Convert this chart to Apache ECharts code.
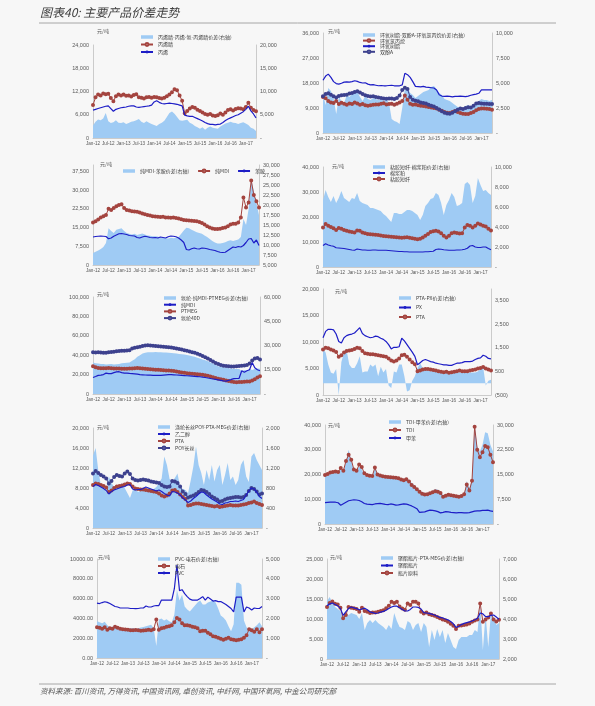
<!DOCTYPE html>
<html>
<head>
<meta charset="utf-8">
<script src="https://cdn.jsdelivr.net/npm/echarts@6.0.0/dist/echarts.min.js"></script>
<style>
html, body { margin: 0; padding: 0; background: #f7f7f7; }
#chart { width: 595px; height: 706px; }
</style>
</head>
<body>
<div id="chart"></div>
<script>
// months Jan-12 .. May-17
const monthNames = ['Jan', 'Feb', 'Mar', 'Apr', 'May', 'Jun', 'Jul', 'Aug', 'Sep', 'Oct', 'Nov', 'Dec'];
const yearNames = ['12', '13', '14', '15', '16', '17'];
const categories = [];
yearNames.forEach(y => monthNames.forEach(m => categories.push(m + '-' + y)));
categories.length = 65;

// panel 1
const p1Spread = [2700, 3500, 4000, 3800, 4200, 5400, 3600, 3200, 3400, 3800, 3300, 3200,
  3400, 3000, 3200, 3500, 3600, 3800, 4100, 3500, 3200, 3600, 3300, 3000,
  2800, 2600, 3000, 3300, 3700, 4500, 5400, 5700, 5200, 4500, 3800, 3700,
  3800, 3900, 3300, 3000, 2600, 2300, 2000, 2300, 1800, 2200, 2500, 2200,
  2100, 2000, 2500, 2800, 3100, 3300, 3500, 3300, 3200, 3000, 3200, 3400,
  3100, 2800, 2200, 2000, 1500];
const p1Red = [8500, 10500, 11200, 11000, 11500, 11300, 11400, 10300, 9500, 10800, 11200, 11000,
  11200, 10900, 11000, 10700, 11100, 11300, 10500, 10400, 10200, 10500, 10600, 10400,
  10600, 10500, 10300, 10200, 10400, 10800, 11200, 11800, 12600, 12300, 11000, 9600,
  6400, 7000, 7600, 8000, 7800, 7300, 7000, 6600, 6200, 6000, 6200, 5800,
  5700, 5900, 6300, 6000, 6600, 7200, 7400, 7100, 7500, 7700, 7600, 7400,
  8000, 9100, 7800, 7200, 6900];
const p1Blue = [7200, 7400, 7600, 7800, 8000, 8200, 8300, 7600, 6900, 7400, 7600, 7800,
  7900, 8000, 8200, 8300, 8300, 8000, 7900, 8000, 8100, 8200, 8300, 8500,
  9300, 9600, 9200, 8900, 8800, 8900, 9000, 8900, 8800, 8700, 8500, 8300,
  5900, 5700, 5600, 5600, 5300, 5000, 4700, 4400, 4000, 3700, 3500, 3500,
  3400, 3500, 3600, 4000, 4500, 4900, 5200, 5500, 5800, 6000, 6400, 6800,
  7400, 8200, 7000, 6200, 5200];

// panel 2: epoxy
const p2Spread = [3900, 2800, 4500, 4200, 3500, 1900, 3600, 3200, 3000, 3800, 3600, 3900,
  4300, 4100, 3600, 3200, 3700, 3400, 3300, 3500, 3400, 3300, 3400, 3200,
  3400, 3000, 1400, 1200, 1100, 900, 2500, 4400, 4600, 4000, 3800, 3500,
  3700, 3900, 4100, 4200, 4300, 4600, 4700, 4400, 4000, 3800, 3400, 3300,
  3200, 3000, 2800, 2600, 2600, 2500, 2700, 2800, 2600, 2800, 3000, 3200,
  3400, 3300, 3300, 3200, 3300];
const p2Ech = [13000, 12500, 11500, 11000, 10800, 11500, 10400, 10900, 10500, 10200, 10600, 10400,
  11000, 10600, 10200, 10400, 10000, 9800, 10000, 10200, 10300, 10300, 10500, 10700,
  10300, 10400, 10500, 10200, 10500, 11000, 11500, 13500, 12000, 10500, 10200, 10300,
  10000, 9800, 9700, 9500, 9400, 9200, 9000, 8800, 8400, 8000, 7600, 7300,
  7200, 7600, 7900, 7600, 7200, 6900, 6800, 6800, 7200, 7600, 8200, 8600,
  8800, 8800, 8700, 8600, 8400];
const p2Epoxy = [19000, 20500, 21200, 20000, 18500, 17800, 17600, 17900, 18300, 18400, 18300, 18500,
  18800, 18600, 18200, 18000, 18100, 17600, 17300, 17400, 17200, 17000, 17100, 17000,
  17000, 17100, 17200, 17000, 17000, 17000, 17300, 21500, 21000, 20000, 18500, 16800,
  16700, 16600, 16800, 16500, 16400, 16300, 16200, 15500, 13800, 13300, 13200, 13300,
  13200, 13000, 13200, 13200, 13300, 13200, 13100, 13300, 13600, 13800, 14000, 14300,
  15500, 15500, 15500, 15500, 15500];
const p2Bpa = [13200, 14000, 14300, 13800, 13200, 12800, 13300, 13600, 13700, 13800, 14200, 14400,
  14800, 15000, 14600, 14000, 13600, 13300, 13100, 13200, 13000, 12800, 12600, 12400,
  12300, 12400, 12400, 12200, 12600, 13500, 15500, 16300, 15800, 13000, 12000, 11600,
  11400, 11000, 10800, 10600, 10200, 9800, 9500, 9000, 8500, 7800, 7300, 7000,
  6900, 7300, 7800, 8400, 8800, 8600, 9000, 9300, 9200, 9800, 10600, 10800,
  10600, 10500, 10500, 10400, 10400];

// panel 3: MDI / aniline
const p3Spread = [8000, 8300, 8600, 9000, 9500, 10500, 14200, 13500, 13000, 13800, 14000, 14200,
  13500, 13000, 12800, 12600, 12800, 12500, 12700, 12900, 12600, 12400, 12300, 12200,
  12200, 12100, 11800, 11900, 11700, 11600, 11800, 11700, 11800, 12000, 12800, 13600,
  14300, 14200, 13800, 13500, 13200, 13000, 12800, 12400, 12000, 11500, 11000, 10600,
  10400, 10400, 10500, 10700, 11000, 11200, 11000, 11200, 11400, 12000, 16500, 15000,
  19000, 26500, 23500, 20500, 17500];
const p3Mdi = [17000, 17500, 18200, 19000, 19500, 20000, 22500, 22000, 22800, 23500, 24000, 24300,
  22800, 22000, 21800, 21500, 21400, 21300, 21000, 20600, 20300, 20000, 19800, 19500,
  19400, 19300, 19200, 19300, 19000, 19000, 18900, 19000, 18800, 18600, 18300, 18000,
  17900, 17800, 17700, 17600, 17500, 17200, 16800, 16200, 15500, 15000, 14600, 14400,
  14400, 14500, 14800, 15000, 15500, 16200, 16500, 16500, 17000, 19000, 27000, 23000,
  25000, 33800, 28000, 25500, 23000];
const p3Aniline = [11200, 11400, 11500, 11600, 11500, 11400, 10500, 10800, 11500, 12000, 12500, 12600,
  12400, 12200, 11800, 11700, 11600, 11000, 10800, 11200, 11500, 11300, 11000, 10900,
  11000, 10800, 11200, 11000, 10800, 11300, 11600, 11500, 11300, 10800, 10000, 9000,
  6200, 6000, 6500, 6800, 6500, 6400, 6800, 6700, 6500, 6200, 6000, 5800,
  5400, 5100, 5000, 5100, 5800, 6500, 7200, 7000, 7400, 7200, 7800, 9000,
  10400, 10600, 8800, 10000, 7800];

// panel 4: viscose
const p4Spread = [6700, 7700, 7000, 6500, 7100, 6400, 6900, 7600, 6900, 6700, 6500, 6900,
  6800, 7400, 6600, 6400, 6300, 6200, 5900, 5900, 5800, 5700, 5600, 5300,
  5100, 4800, 4500, 5400, 5400, 5300, 5300, 5500, 5700, 5700, 5600, 5400,
  5200, 4700, 5200, 6100, 6400, 6800, 6900, 7400, 7200, 6400, 5200, 6200,
  6700, 7400, 7000, 6100, 6200, 6400, 8300, 8500, 8200, 6400, 7100, 8900,
  8200, 7600, 7700, 7400, 7200];
const p4Pulp = [8600, 9300, 8800, 8500, 8300, 7700, 7600, 7500, 7400, 7200, 7000, 6800,
  6700, 7200, 7000, 6800, 6800, 6700, 6700, 6800, 6800, 6700, 6700, 6700,
  6700, 6600, 6500, 6400, 6300, 6200, 6200, 6100, 6100, 6000, 6000, 6000,
  6000, 6000, 6000, 6100, 6100, 6200, 6300, 7000, 7200, 7100, 6900, 6800,
  6700, 6700, 6700, 6800, 6800, 6900, 7100, 7500, 8400, 8600, 8000, 7800,
  7800, 8000, 8000, 7400, 6900];
const p4Vsf = [15800, 17200, 16500, 16000, 15500, 14800, 15600, 15300, 14800, 14500, 14200, 14000,
  13800, 14600, 14500, 13800, 13500, 13200, 13100, 13000, 12900, 12800, 12600, 12400,
  12300, 12200, 12100, 12000, 11900, 11800, 11700, 11800, 11900, 11700, 11500, 11300,
  11100, 11300, 11800, 12500, 13200, 14000, 14300, 14500, 14200, 13500, 12500, 11800,
  12500, 13500, 13800, 13600, 13400, 13500, 15800, 16800, 16500, 15800, 16500, 17400,
  17000, 16500, 16200, 15300, 14600];

// panel 5: spandex
const p5Spread = [19500, 19000, 18800, 18600, 18600, 18200, 18400, 18500, 18300, 18400, 18600, 19000,
  19200, 19400, 19500, 20500, 21500, 23000, 24000, 25000, 25500, 25800, 25800, 25800,
  26000, 25900, 25800, 25700, 25600, 25500, 25400, 25200, 25000, 24800, 24600, 24400,
  24200, 23800, 23400, 23000, 22500, 22000, 21400, 20800, 20200, 19500, 18800, 18000,
  17200, 16800, 16400, 16200, 16000, 15800, 15600, 15500, 15400, 14200, 14800, 14600,
  15500, 14800, 15500, 15800, 15600];
const p5Mdi = [17000, 18000, 19200, 19500, 20000, 21500, 21000, 21000, 22000, 22800, 23000, 22000,
  21600, 21500, 21200, 21000, 20800, 20500, 20000, 19800, 19600, 19500, 19400, 19300,
  19200, 19200, 19300, 19500, 19700, 19900, 20000, 19800, 19600, 19400, 19200, 19000,
  18800, 18600, 18400, 18200, 18000, 17800, 17400, 17000, 16500, 16000, 15500, 15000,
  14500, 14000, 13500, 13200, 14000, 15000, 15800, 16000, 16200, 24000, 22500, 24000,
  25000, 32500, 27000, 25000, 24000];
const p5Ptmeg = [28500, 27500, 26800, 26500, 26500, 26600, 26700, 26600, 26400, 26300, 26200, 26000,
  26000, 26100, 26300, 26400, 26600, 26700, 26500, 26300, 26100, 25900, 25600, 25300,
  25000, 24900, 24700, 24500, 24300, 24100, 24000, 23600, 23200, 22700, 22200, 21800,
  21500, 21200, 21000, 20700, 20400, 20100, 19800, 19300, 18700, 18000, 17200, 16400,
  15800, 15200, 14600, 14000, 13400, 12800, 12300, 12200, 12300, 12500, 12700, 12900,
  13000, 14000, 15300, 17000, 18300];
const p5Spandex = [43000, 42800, 43000, 42800, 42500, 42600, 43000, 43200, 43500, 44000, 44300, 44500,
  44600, 44800, 45000, 47000, 47800, 48200, 48800, 49500, 50000, 50200, 50000, 49800,
  49500, 49300, 49000, 48800, 48500, 48200, 48000, 47500, 47000, 46500, 45800, 45000,
  44500, 43800, 43000, 42500, 41500, 40500, 39200, 38000, 36500, 35000, 33500, 32000,
  30800, 30000, 29200, 28800, 28500, 28400, 28400, 28500, 28800, 29200, 29500, 30000,
  31500, 34500, 36500, 37000, 35500];

// panel 6: PTA / PX
const p6Spread = [1450, 1300, 800, 450, 400, 600, -500, 900, 1300, 1400, 800, 650,
  650, 850, 1150, 450, 500, 500, 800, 700, 800, 300, 700, 450,
  600, -100, -200, 500, 450, 800, 800, 300, -350, -300, 100, 300,
  650, 850, 650, 600, 550, 500, 550, 500, 450, 500, 450, 500,
  450, 450, 450, 500, 450, 450, 450, 450, 450, 450, 450, 500,
  600, 700, -100, 100, 150];
const p6Px = [10800, 12000, 12400, 12400, 12300, 11500, 10100, 9800, 10800, 11200, 11400, 11500,
  11700, 12200, 12700, 11600, 11200, 11000, 10800, 10900, 11100, 11000, 10700, 10500,
  10100, 9500, 8700, 9000, 9000, 9100, 10700, 10200, 9500, 8800, 8100, 7300,
  5700, 6100, 6500, 6700, 6500, 6300, 6200, 6000, 5900, 5800, 5700, 5700,
  5600, 5600, 5800, 6000, 6000, 6100, 6300, 6300, 6300, 6400, 6700, 6900,
  7000, 7500, 7300, 6900, 6800];
const ptaPrice = [8600, 8900, 8800, 8600, 8400, 8100, 7200, 7500, 8000, 8300, 8400, 8500,
  8700, 8900, 8800, 8300, 7900, 7800, 7700, 7700, 7600, 7500, 7400, 7300,
  7200, 6900, 6500, 6300, 6500, 6900, 7500, 7600, 7200, 6700, 6200, 5800,
  4500, 4600, 4800, 4900, 4900, 4800, 4700, 4600, 4500, 4400, 4300, 4400,
  4200, 4300, 4400, 4500, 4600, 4500, 4500, 4500, 4600, 4700, 4800, 5000,
  5100, 5300, 5000, 4800, 4600];

// panel 7: polyester filament
const p7Spread = [1450, 1600, 1150, 850, 800, 720, 1030, 900, 820, 800, 850, 900,
  800, 700, 600, 750, 800, 720, 740, 760, 780, 800, 760, 780,
  820, 900, 990, 1430, 1260, 980, 930, 1000, 1090, 820, 780, 760,
  700, 950, 1230, 1630, 1260, 1100, 860, 1160, 960, 1260, 930, 1160,
  1260, 860, 1060, 1300, 960, 1030, 860, 960, 1260, 1360, 1030, 920,
  1430, 1500, 1360, 1260, 1160];
const p7Meg = [8300, 8700, 8500, 8200, 7900, 7500, 6800, 7300, 7600, 7800, 8000, 8200,
  8300, 8600, 8700, 7800, 7600, 7700, 7700, 7900, 8200, 8000, 7800, 7600,
  7400, 7600, 7300, 6900, 6600, 6400, 7300, 7200, 7000, 6600, 6000, 5600,
  5100, 5400, 5900, 6300, 6800, 7200, 7100, 6600, 6200, 5800, 5500, 5200,
  4800, 4700, 5000, 5100, 5300, 5300, 5400, 5300, 5500, 5700, 6600, 7400,
  8000, 7800, 7200, 6300, 5900];
const p7Poy = [10900, 11400, 11000, 10600, 10300, 9900, 8900, 9400, 10200, 10600, 10400, 10300,
  10900, 11300, 10800, 9900, 9600, 9500, 9600, 9700, 9600, 9500, 9300, 9200,
  9100, 9000, 8600, 8300, 8200, 8300, 9400, 9300, 9000, 8300, 7300, 6800,
  6100, 6300, 6500, 6800, 7200, 7600, 7500, 7200, 6800, 6300, 6000, 5700,
  5300, 5400, 5700, 5900, 6000, 6100, 6200, 6200, 6100, 6200, 6600, 7400,
  8000, 7800, 7300, 6700, 6900];

// panel 8: TDI / toluene
const p8Spread = [14500, 14800, 15300, 15500, 15600, 15400, 16800, 15800, 19000, 22500, 19500, 15800,
  16000, 17500, 16600, 14800, 14300, 14200, 14000, 17400, 14800, 14500, 14400, 14300,
  14500, 14300, 14200, 14200, 14000, 13800, 13600, 14000, 13300, 12500, 11800, 11000,
  10200, 9700, 9400, 9300, 9600, 10100, 10600, 10400, 9900, 8700, 8900, 9200,
  9000, 8800, 8700, 8500, 8700, 9200, 13000, 11000, 13500, 30000, 23500, 22000,
  24000, 27800, 27500, 24000, 22000];
const p8Tdi = [19800, 20200, 20800, 21000, 21200, 21000, 22600, 21500, 25500, 28000, 26000, 22000,
  21500, 24000, 23000, 20500, 19800, 19500, 19400, 22800, 20000, 19600, 19300, 19100,
  19000, 18900, 18800, 18700, 18500, 18000, 17700, 18100, 17200, 15800, 15000, 14000,
  13000, 12200, 11900, 12000, 12400, 12800, 13200, 13000, 12500, 11000, 11400, 11800,
  11600, 11400, 11200, 11000, 11300, 12000, 16000, 13500, 17500, 39300, 30000, 27000,
  29000, 31500, 31000, 28000, 25000];
const p8Toluene = [8600, 8700, 8800, 8900, 8800, 8600, 7600, 8200, 8800, 9400, 9600, 9800,
  9700, 9500, 9000, 8300, 8000, 7900, 7800, 8100, 8200, 8300, 8100, 7900,
  7800, 8100, 7900, 7600, 7700, 7900, 8100, 8000, 7700, 7300, 6800, 6200,
  4700, 4800, 4900, 5300, 5600, 5500, 5300, 5000, 4500, 4700, 5000, 4900,
  4700, 4600, 4500, 4600, 4600, 4500, 4500, 4600, 4900, 5200, 5300, 5300,
  5500, 5500, 5600, 5300, 5100];

// panel 9
const p9Spread = [1850, 1800, 1750, 1830, 1650, 1550, 1580, 1600, 1520, 1540, 1500, 1520,
  1510, 1500, 1520, 1480, 1500, 1540, 1560, 1600, 1640, 1680, 1500, 600,
  1950, 2000, 1900, 1960, 1850, 1800, 2200, 3450, 2900, 3200, 2600, 2450,
  2350, 2500, 2650, 2800, 2900, 2700, 2700, 2800, 2850, 2900, 2800, 2500,
  2150, 2050, 1900, 1600, 1350, 1700, 3800, 3800, 3700, 1900, 1550, 1400,
  1450, 1550, 1650, 1800, 1600];
const p9Red = [3100, 3050, 2950, 3100, 2850, 3000, 2950, 3150, 3050, 2950, 2900, 2880,
  2850, 2800, 2800, 2820, 2800, 2750, 2780, 2800, 2850, 2800, 2900, 3900,
  2850, 3000, 3050, 3150, 3200, 3300, 3600, 4050, 3900, 3500, 3300, 3300,
  3250, 3150, 3100, 3000, 2700, 2750, 2750, 2550, 2400, 2200, 2150, 2050,
  1950, 1850, 1950, 2050, 1900, 1850, 1800, 1850, 1900, 2050, 2300, 2900,
  2800, 2650, 2900, 2600, 2900];
const p9Blue = [5550, 5500, 5600, 5680, 5620, 5500, 5350, 5200, 5150, 5050, 5050, 5050,
  5050, 5000, 5000, 4980, 5000, 5050, 5050, 5250, 5150, 5150, 5250, 5300,
  5300, 5850, 5850, 5850, 5850, 5850, 7000, 9400, 6800, 6900, 6500, 6200,
  5950, 5850, 5850, 5850, 6000, 6200, 5850, 6150, 5950, 5750, 5800, 5700,
  5700, 5550, 5400, 5200, 5000, 4650, 6150, 6150, 6150, 4650, 5150, 5050,
  4850, 5050, 5000, 5000, 5200];

// panel 10
const p10Spread = [4900, 5100, 4800, 4600, 4500, 4400, 4000, 4300, 4200, 4300, 4250, 4200,
  4000, 4300, 3450, 3800, 3950, 3800, 3950, 3800, 3700, 3600, 3450, 3700,
  3500, 4300, 3900, 3600, 3550, 3450, 3900, 3800, 3450, 3700, 3800, 3350,
  3800, 3600, 2600, 3450, 2950, 3500, 3100, 3450, 2800, 3300, 2950, 2600,
  2500, 2950, 3100, 3100, 3100, 3200, 3200, 3450, 3350, 4850, 2450, 4250,
  2600, 4300, 4100, 3700, 3800];
const p10Blue = [13300, 13800, 14000, 13600, 13300, 12600, 10900, 11800, 12600, 13000, 12800, 12600,
  12300, 12500, 12700, 12300, 11800, 11600, 11400, 11500, 11700, 11900, 12200, 12600,
  13000, 13200, 13200, 12800, 12400, 12000, 12000, 12400, 13000, 13000, 12900, 12500,
  11600, 11500, 11400, 11200, 11000, 10700, 10400, 10300, 10000, 9800, 9400, 8800,
  7900, 8200, 8600, 8900, 9100, 9300, 9500, 9800, 10200, 11500, 11300, 10600,
  10600, 10900, 11000, 10500, 9900];
const p10Red = [13000, 14000, 14400, 13800, 13600, 12800, 10200, 11000, 13000, 12800, 12700, 12500,
  11800, 12800, 12000, 11800, 11500, 11600, 11600, 11800, 12000, 12200, 12700, 13300,
  14300, 14000, 14300, 13100, 12600, 12300, 13900, 13500, 14300, 14300, 13900, 11800,
  11400, 11600, 11200, 11000, 10800, 10500, 10200, 9900, 9700, 9300, 8800, 8300,
  7500, 8300, 8400, 8500, 8600, 8900, 9300, 9600, 9900, 13900, 9300, 9900,
  10400, 11400, 9900, 9400, 9800];

const AREA = '#9fcbf4';
const BLUE = '#1d1dc6';
const RED = '#a4443f';
const NAVY = '#3d418e';
const FONT = '"Liberation Sans", Arial, sans-serif';
const CJK = '"Noto Sans CJK SC", sans-serif';

const fmt = v => v.toLocaleString('en-US');
const fmtDash = v => v === 0 ? '-' : v.toLocaleString('en-US');
const fmtParen = v => v < 0 ? '(' + Math.abs(v).toLocaleString('en-US') + ')' : v.toLocaleString('en-US');
const fmtDec = v => v.toFixed(2);

// series kinds: a = spread area (right axis), b = plain blue line, r = red marked line, n = navy marked line
const panels = [
  { grid: [93, 45, 163, 93], unit: [97, 29],
    left: { max: 24000, interval: 6000 }, right: { max: 20000, interval: 5000, f: fmtDash },
    legend: { x: 140, y: 34, orient: 'vertical', step: 7.5 },
    series: [['a', '丙烯腈-丙烯-氨-丙烯腈价差(右轴)', p1Spread], ['r', '丙烯腈', p1Red], ['b', '丙烯', p1Blue]] },
  { grid: [323, 33, 169, 100], unit: [328, 29],
    left: { max: 36000, interval: 9000 }, right: { max: 10000, interval: 2500, f: fmtDash },
    legend: { x: 362, y: 32, orient: 'vertical', step: 5.6 },
    series: [['a', '环氧树脂-双酚A-环氧氯丙烷价差(右轴)', p2Spread], ['r', '环氧氯丙烷', p2Ech], ['b', '环氧树脂', p2Epoxy], ['n', '双酚A', p2Bpa]] },
  { grid: [93, 165, 166, 100], unit: [100, 162],
    left: { max: 40000, interval: 7500, hideMax: true }, right: { min: 5000, max: 30000, interval: 2500, f: fmt },
    legend: { x: 123, y: 168, orient: 'horizontal' },
    series: [['a', '纯MDI-苯胺价差(右轴)', p3Spread], ['r', '纯MDI', p3Mdi], ['b', '苯胺', p3Aniline]] },
  { grid: [323, 167, 168, 100], unit: [332, 164],
    left: { max: 40000, interval: 10000 }, right: { max: 10000, interval: 2000, f: fmtDash },
    legend: { x: 372, y: 164, orient: 'vertical', step: 6 },
    series: [['a', '粘胶短纤-棉浆粕价差(右轴)', p4Spread], ['b', '棉浆粕', p4Pulp], ['r', '粘胶短纤', p4Vsf]] },
  { grid: [93, 297, 167, 97], unit: [97, 292],
    left: { max: 100000, interval: 20000 }, right: { max: 60000, interval: 15000, f: fmtDash },
    legend: { x: 163, y: 295, orient: 'vertical', step: 6.7 },
    series: [['a', '氨纶-纯MDI-PTMEG价差(右轴)', p5Spread], ['b', '纯MDI ', p5Mdi], ['r', 'PTMEG', p5Ptmeg], ['n', '氨纶40D', p5Spandex]] },
  { grid: [323, 289, 168, 106], unit: [335, 289],
    left: { max: 20000, interval: 5000 }, right: { min: -500, max: 4000, interval: 1000, f: fmtParen, hideMax: true },
    legend: { x: 398, y: 295, orient: 'vertical', step: 9.5 },
    series: [['a', 'PTA-PX价差(右轴)', p6Spread], ['b', 'PX', p6Px], ['r', 'PTA', ptaPrice]] },
  { grid: [93, 428, 169, 100], unit: [97, 425],
    left: { max: 20000, interval: 4000 }, right: { max: 2000, interval: 400, f: fmtDash },
    legend: { x: 157, y: 424, orient: 'vertical', step: 7 },
    series: [['a', '涤纶长丝POY-PTA-MEG价差(右轴)', p7Spread], ['b', '乙二醇', p7Meg], ['r', 'PTA ', ptaPrice], ['n', 'POY长丝', p7Poy]] },
  { grid: [325, 425, 168, 99], unit: [328, 423],
    left: { max: 40000, interval: 10000 }, right: { max: 30000, interval: 7500, f: fmtDash },
    legend: { x: 388, y: 419, orient: 'vertical', step: 8 },
    series: [['a', 'TDI-甲苯价差(右轴)', p8Spread], ['r', 'TDI', p8Tdi], ['b', '甲苯', p8Toluene]] },
  { grid: [97, 559, 165, 99], unit: [98, 555],
    left: { max: 10000, interval: 2000, f: fmtDec }, right: { max: 5000, interval: 1000, f: fmtDash },
    legend: { x: 157, y: 556, orient: 'vertical', step: 7 },
    series: [['a', 'PVC-电石价差(右轴)', p9Spread], ['r', '电石', p9Red], ['b', 'PVC', p9Blue]] },
  { grid: [327, 559, 172, 100], unit: [330, 555],
    left: { max: 25000, interval: 5000 }, right: { min: 2000, max: 7000, interval: 1000, f: fmt },
    legend: { x: 380, y: 555, orient: 'vertical', step: 7.5 },
    series: [['a', '聚酯瓶片-PTA-MEG价差(右轴)', p10Spread], ['b', '聚酯瓶片', p10Blue], ['r', '瓶片原料', p10Red]] }
];

const axisLabelBase = { fontSize: 5.5, color: '#595959', fontFamily: FONT };
const grids = [], xAxes = [], yAxes = [], series = [], legends = [], graphics = [];
const lastIdx = categories.length - 1;

panels.forEach((p, i) => {
  grids.push({ left: p.grid[0], top: p.grid[1], width: p.grid[2], height: p.grid[3] });
  xAxes.push({
    type: 'category', gridIndex: i, data: categories, boundaryGap: false,
    axisLine: { lineStyle: { color: '#bfbfbf', width: 0.8 } },
    axisTick: { show: false },
    axisLabel: {
      interval: idx => idx % 6 === 0 || idx === lastIdx,
      formatter: (v, idx) => idx % 6 === 0 ? v : '',
      margin: 3, fontSize: 4.6, color: '#595959', fontFamily: FONT,
      showMinLabel: true, showMaxLabel: true, hideOverlap: false
    },
    splitLine: { show: false }
  });
  yAxes.push({
    type: 'value', gridIndex: i, position: 'left', min: 0, max: p.left.max, interval: p.left.interval,
    axisLine: { show: true, lineStyle: { color: '#bfbfbf', width: 0.8 } },
    axisTick: { show: false },
    axisLabel: Object.assign({ margin: 4, formatter: p.left.f || fmt, showMaxLabel: !p.left.hideMax }, axisLabelBase),
    splitLine: { show: false }
  });
  yAxes.push({
    type: 'value', gridIndex: i, position: 'right', min: p.right.min || 0, max: p.right.max, interval: p.right.interval,
    axisLine: { show: true, lineStyle: { color: '#bfbfbf', width: 0.8 } },
    axisTick: { show: false },
    axisLabel: Object.assign({ margin: 4, formatter: p.right.f, showMaxLabel: !p.right.hideMax }, axisLabelBase),
    splitLine: { show: false }
  });

  const legendData = [];
  p.series.forEach(([kind, name, data]) => {
    const s = { name, type: 'line', xAxisIndex: i, yAxisIndex: i * 2, data, silent: true };
    if (kind === 'a') {
      Object.assign(s, {
        yAxisIndex: i * 2 + 1, symbol: 'none', lineStyle: { width: 0 },
        areaStyle: { color: AREA, opacity: 1 }, itemStyle: { color: AREA }, z: 1
      });
      legendData.push({ name, icon: 'rect', itemStyle: { color: AREA } });
    } else if (kind === 'b') {
      Object.assign(s, { symbol: 'none', lineStyle: { width: 1.2, color: BLUE }, itemStyle: { color: BLUE }, z: 3 });
      legendData.push({ name });
    } else {
      const c = kind === 'r' ? RED : NAVY;
      Object.assign(s, {
        symbol: 'emptyCircle', symbolSize: 2, showSymbol: true, showAllSymbol: true,
        lineStyle: { width: 1, color: c }, itemStyle: { color: c, borderWidth: 0.5 }, z: 2
      });
      legendData.push({ name });
    }
    series.push(s);
  });

  const lg = p.legend;
  legends.push({
    left: lg.x, top: lg.y, orient: lg.orient, selectedMode: false,
    itemWidth: 12, itemHeight: 3.5, padding: 0,
    itemGap: lg.orient === 'vertical' ? lg.step - 6 : 8,
    textStyle: { fontSize: 5, color: '#404040', fontFamily: CJK, lineHeight: 6 },
    data: legendData
  });

  graphics.push({
    type: 'text', left: p.unit[0], top: p.unit[1],
    style: { text: '元/吨', fontSize: 5, fill: '#595959', fontFamily: CJK }
  });
});

graphics.push(
  { type: 'text', left: 40, top: 6, style: { text: '图表40: 主要产品价差走势', fontSize: 12, fontStyle: 'italic', fill: '#404040', fontFamily: CJK } },
  { type: 'line', shape: { x1: 39, y1: 23, x2: 556, y2: 23 }, style: { stroke: '#a6a6a6', lineWidth: 1 } },
  { type: 'line', shape: { x1: 39, y1: 684, x2: 556, y2: 684 }, style: { stroke: '#a6a6a6', lineWidth: 1 } },
  { type: 'text', left: 40, top: 687, style: { text: '资料来源: 百川资讯, 万得资讯, 中国资讯网, 卓创资讯, 中纤网, 中国环氧网, 中金公司研究部', fontSize: 7.5, fontStyle: 'italic', fill: '#595959', fontFamily: CJK } }
);

const chart = echarts.init(document.getElementById('chart'), null, { renderer: 'canvas' });
chart.setOption({
  backgroundColor: '#f7f7f7',
  animation: false,
  grid: grids,
  xAxis: xAxes,
  yAxis: yAxes,
  legend: legends,
  series: series,
  graphic: graphics
});
</script>
</body>
</html>
